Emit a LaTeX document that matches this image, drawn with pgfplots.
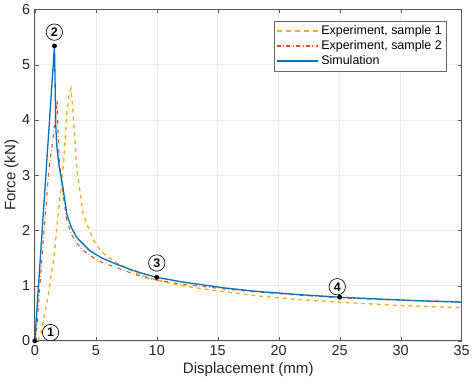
\documentclass[border=0pt]{standalone}
\usepackage{pgfplots}
\pgfplotsset{compat=1.18}
\usepackage{fontspec}
\setmainfont{Liberation Sans}
\definecolor{mblue}{rgb}{0,0.447,0.741}
\definecolor{mred}{rgb}{0.85,0.325,0.098}
\definecolor{myellow}{rgb}{0.929,0.694,0.125}
\begin{document}
\begin{tikzpicture}
\begin{axis}[
  scale only axis,
  width=325.5pt, height=252.75pt,
  xmin=0, xmax=35, ymin=0, ymax=6,
  xtick={0,5,...,35}, ytick={0,1,...,6},
  grid=major,
  major grid style={gray!15, line width=0.4pt},
  axis line style={gray!70!black, line width=0.6pt},
  tick style={gray!70!black},
  tick align=inside,
  major tick length=3pt,
  /pgf/number format/assume math mode=true,
  ticklabel style={font=\fontsize{11}{13}\selectfont, text=black!85},
  xlabel={Displacement (mm)},
  ylabel={Force (kN)},
  label style={font=\fontsize{11.5}{13}\selectfont, text=black!85},
  xlabel style={yshift=2pt},
  ylabel style={yshift=-4pt},
  legend style={at={(rel axis cs:0.965,0.965)}, anchor=north east,
    font=\fontsize{9.5}{11}\selectfont, draw=black!60,
    inner sep=1.5pt, row sep=-1pt, cells={anchor=west}},
  legend cell align=left,
]
\addlegendimage{legend image code/.code={\draw[color=myellow, dash pattern=on 4pt off 3pt, line width=1.5pt] (0cm,0cm) -- (1.1cm,0cm);}}
\addlegendentry{Experiment, sample 1}
\addlegendimage{legend image code/.code={\draw[color=mred, dash dot, line width=1.3pt] (0cm,0cm) -- (1.1cm,0cm);}}
\addlegendentry{Experiment, sample 2}
\addlegendimage{legend image code/.code={\draw[color=mblue, line width=1.5pt] (0cm,0cm) -- (1.1cm,0cm);}}
\addlegendentry{Simulation}
\addplot[color=myellow, dashed, line width=1pt, forget plot] coordinates {
(0.25,0) (0.5,0.15) (1.0,0.7) (1.56,1.5) (1.83,2.1) (2.36,3.23) (2.63,4.12)
(2.8,4.45) (2.96,4.57) (3.15,4.1) (3.3,3.6) (3.45,3.1) (3.98,2.28) (4.78,1.83)
(5.5,1.6) (6.67,1.42) (8,1.26) (9,1.17) (10,1.1) (12,1.0) (14.2,0.93)
(18,0.82) (21.5,0.75) (25,0.7) (30,0.64) (35,0.6)};
\addplot[color=mred, dash dot, line width=0.8pt, forget plot] coordinates {
(0,0) (0.1,0.05) (0.62,1.6) (1.15,3.1) (1.43,3.55) (1.83,4.36)
(1.9,3.8) (2.0,3.3) (2.2,2.85) (2.6,2.2) (3.0,1.93) (3.5,1.75) (4,1.63)
(4.78,1.51) (5.5,1.42) (6.67,1.33) (8,1.22) (9,1.15) (10,1.1) (12,1.03)
(15.5,0.94) (18,0.89) (21.5,0.83) (25,0.78) (28,0.75) (31,0.73) (35,0.71)};
\addplot[color=mblue, line width=1pt, forget plot] coordinates {
(0,0) (1.61,5.34) (1.72,3.9) (1.78,3.6) (1.83,3.47) (2.0,3.15) (2.23,2.88)
(2.64,2.28) (3.0,2.05) (3.44,1.87) (4.52,1.63) (5.5,1.5) (6.67,1.39)
(8,1.28) (9,1.21) (10,1.15) (12,1.07) (15.5,0.96) (18,0.9) (21.5,0.84)
(25,0.79) (28,0.76) (31,0.73) (35,0.7)};
\addplot[only marks, mark=*, mark size=1.6pt, black, forget plot] coordinates {
(0,0) (1.61,5.34) (10,1.15) (25,0.79)};
\tikzset{cnum/.style={circle, draw=black, line width=0.5pt, inner sep=0.6pt,
  minimum size=12.5pt, fill=white, font=\fontsize{9.5}{10}\selectfont\bfseries}}
\node[cnum] at (axis cs:1.29,0.15) {1};
\node[cnum] at (axis cs:1.6,5.59) {2};
\node[cnum] at (axis cs:10,1.41) {3};
\node[cnum] at (axis cs:24.8,0.98) {4};
\end{axis}
\end{tikzpicture}
\end{document}
